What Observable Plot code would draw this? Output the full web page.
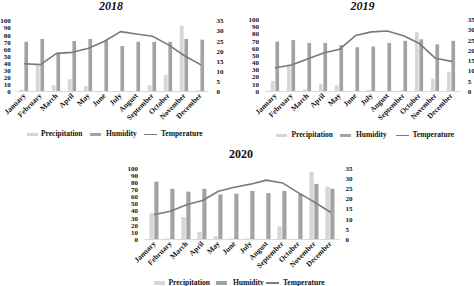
<!DOCTYPE html>
<html>
<head>
<meta charset="utf-8">
<script src="https://cdn.jsdelivr.net/npm/d3@7"></script>
<script src="https://cdn.jsdelivr.net/npm/@observablehq/plot@0.6"></script>
<style>
  html, body { margin: 0; padding: 0; background: #fff; }
  #root { position: relative; width: 474px; height: 286px; overflow: hidden; font-family: "Liberation Serif", "Times New Roman", serif; color: #111; }
  .title { position: absolute; font-weight: bold; font-size: 12px; line-height: 13px; transform: translateX(-50%); white-space: nowrap; }
  .lg { position: absolute; font-weight: bold; font-size: 7.5px; line-height: 10px; height: 10px; white-space: nowrap; color: #111; }
  .sw { position: absolute; }
  svg { overflow: visible; }
</style>
</head>
<body>
<div id="root"></div>
<script>
const months = ["January","February","March","April","May","June","July","August","September","October","November","December"];

const precip2018 = [2, 36, 8, 17, 7, 0, 0, 0, 8, 23, 93, 1];
const hum2018    = [70, 74, 54, 71, 74, 72, 64, 70, 70, 70, 74, 73];
const temp2018   = [13.8, 13.4, 19, 19.5, 21.5, 25, 29.8, 28.6, 27.5, 23.2, 17.8, 13.4];

const precip2019 = [14, 37, 2, 10, 8, 0, 2, 0, 1, 82, 17, 27];
const hum2019    = [69, 71, 67, 67, 64, 61, 62, 67, 70, 72, 65, 70];
const temp2019   = [11.6, 12.9, 15.9, 18.8, 20.6, 27.3, 29.1, 29.5, 27.2, 23.4, 16.2, 14.7];

const precip2020 = [37, 1, 31, 10, 4, 1, 1, 0, 18, 0, 95, 74];
const hum2020    = [81, 71, 67, 71, 63, 64, 68, 65, 68, 64, 78, 71];
const temp2020   = [12.4, 14, 17.2, 19.3, 23.9, 25.9, 27.4, 29.4, 28, 23.1, 18.5, 13.5];

const leftTicks = [0, 10, 20, 30, 40, 50, 60, 70, 80, 90, 100];
const rightTicks = [0, 5, 10, 15, 20, 25, 30, 35];
const legendLabels = ["Precipitation", "Humidity", "Temperature"];

const C_PREC = "#d6d6d6", C_HUM = "#a3a3a3", C_TEMP = "#7a7a7a", C_TEXT = "#111";
const FONT = "Liberation Serif, Times New Roman, serif";

const root = document.getElementById("root");

function panel(o) {
  const rows = months.map((m, i) => ({month: m, precip: o.precip[i], hum: o.hum[i], temp: o.temp[i]}));
  const k = 100 / 35;
  const chart = Plot.plot({
    width: o.w, height: o.h,
    marginTop: o.mt, marginBottom: o.mb, marginLeft: o.ml, marginRight: o.mr,
    style: {fontFamily: FONT, fontWeight: "bold", fontSize: "7px", color: C_TEXT, background: "transparent"},
    x: {type: "band", domain: months, padding: 0, axis: null, label: null},
    y: {domain: [0, 100], axis: null, label: null},
    marks: [
      Plot.barY(rows, {x: "month", y: "precip", fill: C_PREC, insetLeft: o.bw[0], insetRight: o.bw[1]}),
      Plot.barY(rows, {x: "month", y: "hum", fill: C_HUM, insetLeft: o.bw[1], insetRight: o.bw[0]}),
      Plot.ruleY([0], {stroke: "#d9d9d9", strokeWidth: 1}),
      Plot.lineY(rows, {x: "month", y: d => d.temp * k, stroke: C_TEMP, strokeWidth: 1.6}),
      Plot.axisY({anchor: "left", ticks: leftTicks, tickSize: 0, tickPadding: o.lp, fontWeight: "bold", label: null}),
      Plot.axisY({anchor: "right", ticks: rightTicks.map(t => t * k), tickFormat: d => String(Math.round(d / k)), tickSize: 0, tickPadding: o.rp, fontWeight: "bold", label: null}),
      Plot.axisX({tickRotate: -45, tickSize: 0, tickPadding: 3, fontWeight: "bold", fontSize: 7.5, label: null})
    ]
  });
  chart.style.position = "absolute";
  chart.style.left = o.x + "px";
  chart.style.top = o.y + "px";
  root.appendChild(chart);

  const t = document.createElement("div");
  t.className = "title";
  t.textContent = o.title;
  t.style.left = o.tx + "px";
  t.style.top = o.ty + "px";
  t.style.fontStyle = o.italic ? "italic" : "normal";
  root.appendChild(t);

  const L = o.lg;
  const sws = [[L.s1, C_PREC, 11, 3.5, -1.5], [L.s2, C_HUM, 11, 3.5, -1.5], [L.s3, C_TEMP, 13, 1.5, -0.5]];
  sws.forEach(([x, c, w, h, dy]) => {
    const d = document.createElement("div");
    d.className = "sw";
    d.style.left = x + "px"; d.style.top = (L.y + dy) + "px";
    d.style.width = w + "px"; d.style.height = h + "px"; d.style.background = c;
    root.appendChild(d);
  });
  [L.t1, L.t2, L.t3].forEach((x, i) => {
    const s = document.createElement("div");
    s.className = "lg";
    s.textContent = legendLabels[i];
    s.style.left = x + "px";
    s.style.top = (L.y - 5) + "px";
    root.appendChild(s);
  });
}

panel({title: "2018", italic: true, tx: 111, ty: 0,
  precip: precip2018, hum: hum2018, temp: temp2018,
  x: 0, y: 10, w: 234, h: 120, mt: 10.7, mb: 39, ml: 15.2, mr: 25, lp: 5, rp: 7, bw: [3.9, 8.4],
  lg: {y: 134, s1: 27, t1: 41, s2: 90, t2: 106, s3: 144, t3: 161}});

panel({title: "2019", italic: true, tx: 362.5, ty: 0,
  precip: precip2019, hum: hum2019, temp: temp2019,
  x: 234, y: 9, w: 240, h: 121, mt: 10.3, mb: 39, ml: 31.4, mr: 13.4, lp: 7, rp: 6.7, bw: [3.9, 8.4],
  lg: {y: 135, s1: 276, t1: 291.5, s2: 340, t2: 356, s3: 396, t3: 412.5}});

panel({title: "2020", italic: false, tx: 241, ty: 148,
  precip: precip2020, hum: hum2020, temp: temp2020,
  x: 100, y: 158, w: 280, h: 120, mt: 10.3, mb: 39, ml: 44.4, mr: 40.4, lp: 7, rp: 5.5, bw: [3.5, 8.3],
  lg: {y: 282.5, s1: 154, t1: 168.5, s2: 216, t2: 233, s3: 266, t3: 283}});
</script>
</body>
</html>
